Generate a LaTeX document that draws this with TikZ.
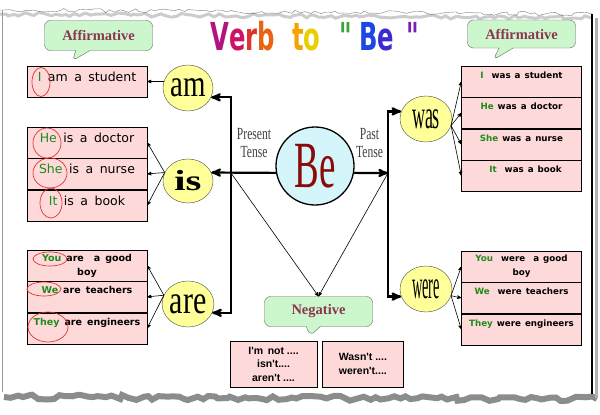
\documentclass[tikz,border=0pt]{standalone}
\usepackage{graphicx}
\usepackage{fontspec}
\setmainfont{Liberation Serif}
\setsansfont{DejaVu Sans}
\newfontfamily\titlefont{DejaVu Sans}
\newfontfamily\negfont{Liberation Sans}
\usetikzlibrary{shapes,shapes.callouts,shadows,arrows,positioning,calc,decorations.pathmorphing}
\usepackage{color}

\definecolor{pinkbox}{HTML}{FDD9D9}
\definecolor{mintbox}{HTML}{CCF7CC}
\definecolor{verbfill}{HTML}{FFFF99}
\definecolor{befill}{HTML}{D4F5FA}
\definecolor{bered}{HTML}{8B0A0A}
\definecolor{maroon}{HTML}{8B3550}
\definecolor{pgreen}{HTML}{1E8C1E}
\definecolor{ringred}{HTML}{E03535}
\definecolor{tA}{HTML}{B3127F}
\definecolor{tB}{HTML}{CC1466}
\definecolor{tC}{HTML}{E0322D}
\definecolor{tD}{HTML}{E86414}
\definecolor{tE}{HTML}{F5A300}
\definecolor{tF}{HTML}{EACF00}
\definecolor{tG}{HTML}{3FA33A}
\definecolor{tH}{HTML}{1E46E6}
\definecolor{tI}{HTML}{3A2BD2}
\definecolor{tJ}{HTML}{7A1FB8}

\newcommand{\subj}[1]{\textcolor{pgreen}{#1}}
\newcommand{\squeeze}[2]{\scalebox{#1}[1]{#2}}

\begin{document}
\begin{tikzpicture}[>=stealth', x=1pt, y=-1pt]
\tikzstyle{cell} = [rectangle, draw, fill=pinkbox, minimum width=120, minimum height=31, inner sep=0, align=center]
\tikzstyle{lrow} = [cell, font={\sffamily\fontsize{12.5}{14}\selectfont\spaceskip=6.5pt}, text height=8, text depth=8]
\tikzstyle{brow} = [cell, font={\sffamily\bfseries\fontsize{9.5}{14}\selectfont\spaceskip=5pt}]
\tikzstyle{rrow} = [cell, font={\sffamily\bfseries\fontsize{8.7}{14}\selectfont\spaceskip=4pt}]
\tikzstyle{lift} = [text height=7, text depth=13]
\tikzstyle{nbox} = [cell, minimum width=87, minimum height=46, font={\negfont\bfseries\fontsize{10.5}{13.5}\selectfont}]
\tikzstyle{verb} = [ellipse, draw=black!70, fill=verbfill, minimum width=50, minimum height=46, inner sep=0]
\tikzstyle{balloon} = [rectangle callout, draw=black!60, fill=mintbox, rounded corners=6, callout pointer width=14pt, minimum width=108, minimum height=30, text=maroon, font={\bfseries\fontsize{14.5}{16}\selectfont}]
\tikzstyle{ring} = [ellipse, draw=ringred, line width=0.7, inner sep=0]
\tikzstyle{tense} = [align=center, text=black!75, font={\fontsize{17}{18}\selectfont}]
\tikzstyle{trunk} = [draw, ->, line width=2.2]
\tikzstyle{link} = [draw, ->, line width=0.6]

%% paper
\fill[white] (0,0) rectangle (600,415);
\useasboundingbox (0,0) rectangle (600,415);
\pgfmathsetseed{5}
\draw[black!20, line width=3, decorate, decoration={random steps, segment length=5pt, amplitude=2pt}] (0,14) -- (592,18);
\draw[black!50, decorate, decoration={random steps, segment length=5pt, amplitude=2pt}] (0,10) -- (592,14);
\draw[black!45, line width=6, decorate, decoration={random steps, segment length=6pt, amplitude=2.5pt}] (4,397) -- (597,399);
\draw[black!40] (2,10) -- (2,392);
\draw[black!30, line width=3] (596,18) -- (596,398);
\draw[line width=1.5] (592,14) -- (592,394);

%% title
\node at (315,36) (T) {\titlefont\bfseries\fontsize{38.5}{40}\selectfont\squeeze{.63}{\textcolor{tA}{V}\textcolor{tB}{e}\textcolor{tC}{r}\textcolor{tD}{b}\hspace{27pt}\textcolor{tE}{t}\textcolor{tF}{o}\hspace{30pt}\textcolor{tG}{"}\hspace{12pt}\textcolor{tH}{B}\textcolor{tI}{e}\hspace{20pt}\textcolor{tJ}{"}}};

%% balloons
\node[balloon, callout absolute pointer={(72,61)}] at (98.5,35.5) (A1) {Affirmative};
\node[balloon, minimum height=28, callout absolute pointer={(493,60)}] at (521.5,34) (A2) {Affirmative};
\node[balloon, callout absolute pointer={(310,336)}] at (318.5,311.5) (Neg) {Negative};

%% centre
\node[circle, draw, line width=1.3, fill=befill, minimum size=78, inner sep=0, text=bered, font={\fontsize{66}{66}\selectfont}] at (315,166) (Be) {\squeeze{.56}{Be}};
\node[tense] at (254,143) (P1) {\squeeze{.68}{Present}\\\squeeze{.68}{Tense}};
\node[tense] at (369.5,143) (P2) {\squeeze{.68}{Past}\\\squeeze{.68}{Tense}};

%% verbs
\node[verb, font={\fontsize{38}{38}\selectfont}] at (188,88) (am) {\squeeze{.76}{am}};
\node[verb, minimum height=44, font={\bfseries\fontsize{29}{29}\selectfont}] at (188,181) (is) {\squeeze{1.4}{is}};
\node[verb, font={\fontsize{40}{40}\selectfont}] at (188,304) (are) {\squeeze{.75}{are}};
\node[verb, minimum width=52, font={\fontsize{40}{40}\selectfont}] at (426,119) (was) {\squeeze{.45}{was}};
\node[verb, minimum width=52, font={\fontsize{40}{40}\selectfont}] at (426,289) (were) {\squeeze{.36}{were}};

%% present rows
\node[lrow] at (87,81.5) (L1) {\subj{I} am a student};
\node[lrow] at (87,142.5) (L2) {\subj{He} is a doctor};
\node[lrow, below=0pt of L2] (L3) {\subj{She} is a nurse};
\node[lrow, below=0pt of L3] (L4) {\subj{It} is a book};
\node[brow] at (87,265.5) (L5) {\subj{You} are \ a good\\boy};
\node[brow, lift, below=0pt of L5] (L6) {\subj{We} are teachers};
\node[brow, lift, below=0pt of L6] (L7) {\subj{They} are engineers};

%% past rows
\node[rrow, lift] at (521.5,81.5) (R1) {\subj{I} \ was a student};
\node[rrow, lift, below=0pt of R1] (R2) {\subj{He} was a doctor};
\node[rrow, lift, below=0pt of R2] (R3) {\subj{She} was a nurse};
\node[rrow, lift, below=0pt of R3] (R4) {\ \ \subj{It} \ was a book};
\node[rrow] at (521.5,266.5) (R5) {\subj{You} \ were \ a good\\boy};
\node[rrow, lift, below=0pt of R5] (R6) {\subj{We} \ were teachers};
\node[rrow, lift, below=0pt of R6] (R7) {\subj{They} were engineers};

%% negative rows
\node[nbox] at (273.5,364) (N1) {I'm \,not ....\\isn't....\\aren't ....};
\node[nbox, minimum width=81, right=5pt of N1] (N2) {Wasn't ....\\weren't....};

%% rings
\node[ring, minimum width=18, minimum height=29] at (41,82) (o1) {};
\node[ring, minimum width=28, minimum height=30] at (47,143) (o2) {};
\node[ring, minimum width=34, minimum height=30] at (50,173) (o3) {};
\node[ring, minimum width=22, minimum height=30] at (51,203) (o4) {};
\node[ring, minimum width=34, minimum height=14] at (50,259) (o5) {};
\node[ring, minimum width=34, minimum height=14] at (44,289) (o6) {};
\node[ring, minimum width=40, minimum height=30] at (48,327) (o7) {};

%% arrows
\coordinate (J1) at (231,173);
\coordinate (J2) at (388,173);
\draw[trunk] (Be.190) -- (is.20);
\draw[trunk] (J1) |- (am.-22);
\draw[trunk] (J1) |- (are.-20);
\draw[trunk] (Be.-10) -- (J2);
\draw[trunk] (J2) |- (was.163);
\draw[trunk] (J2) |- (were.197);
\draw[link] (J1) -- (Neg.north);
\draw[link] (J2) -- (Neg.north);
\draw[link] (am.165) -- (L1.east);
\draw[link] (is.160) -- (L2.east);
\draw[link] (is.160) -- (L3.east);
\draw[link] (is.160) -- (L4.east);
\draw[link] (are.160) -- (L5.east);
\draw[link] (are.160) -- (L6.east);
\draw[link] (are.160) -- (L7.east);
\draw[link] (was.-15) -- (R1.west);
\draw[link] (was.-15) -- (R2.west);
\draw[link] (was.-15) -- (R3.west);
\draw[link] (was.-15) -- (R4.west);
\draw[link] (were.-15) -- (R5.west);
\draw[link] (were.-15) -- (R6.west);
\draw[link] (were.-15) -- (R7.west);
\end{tikzpicture}
\end{document}
